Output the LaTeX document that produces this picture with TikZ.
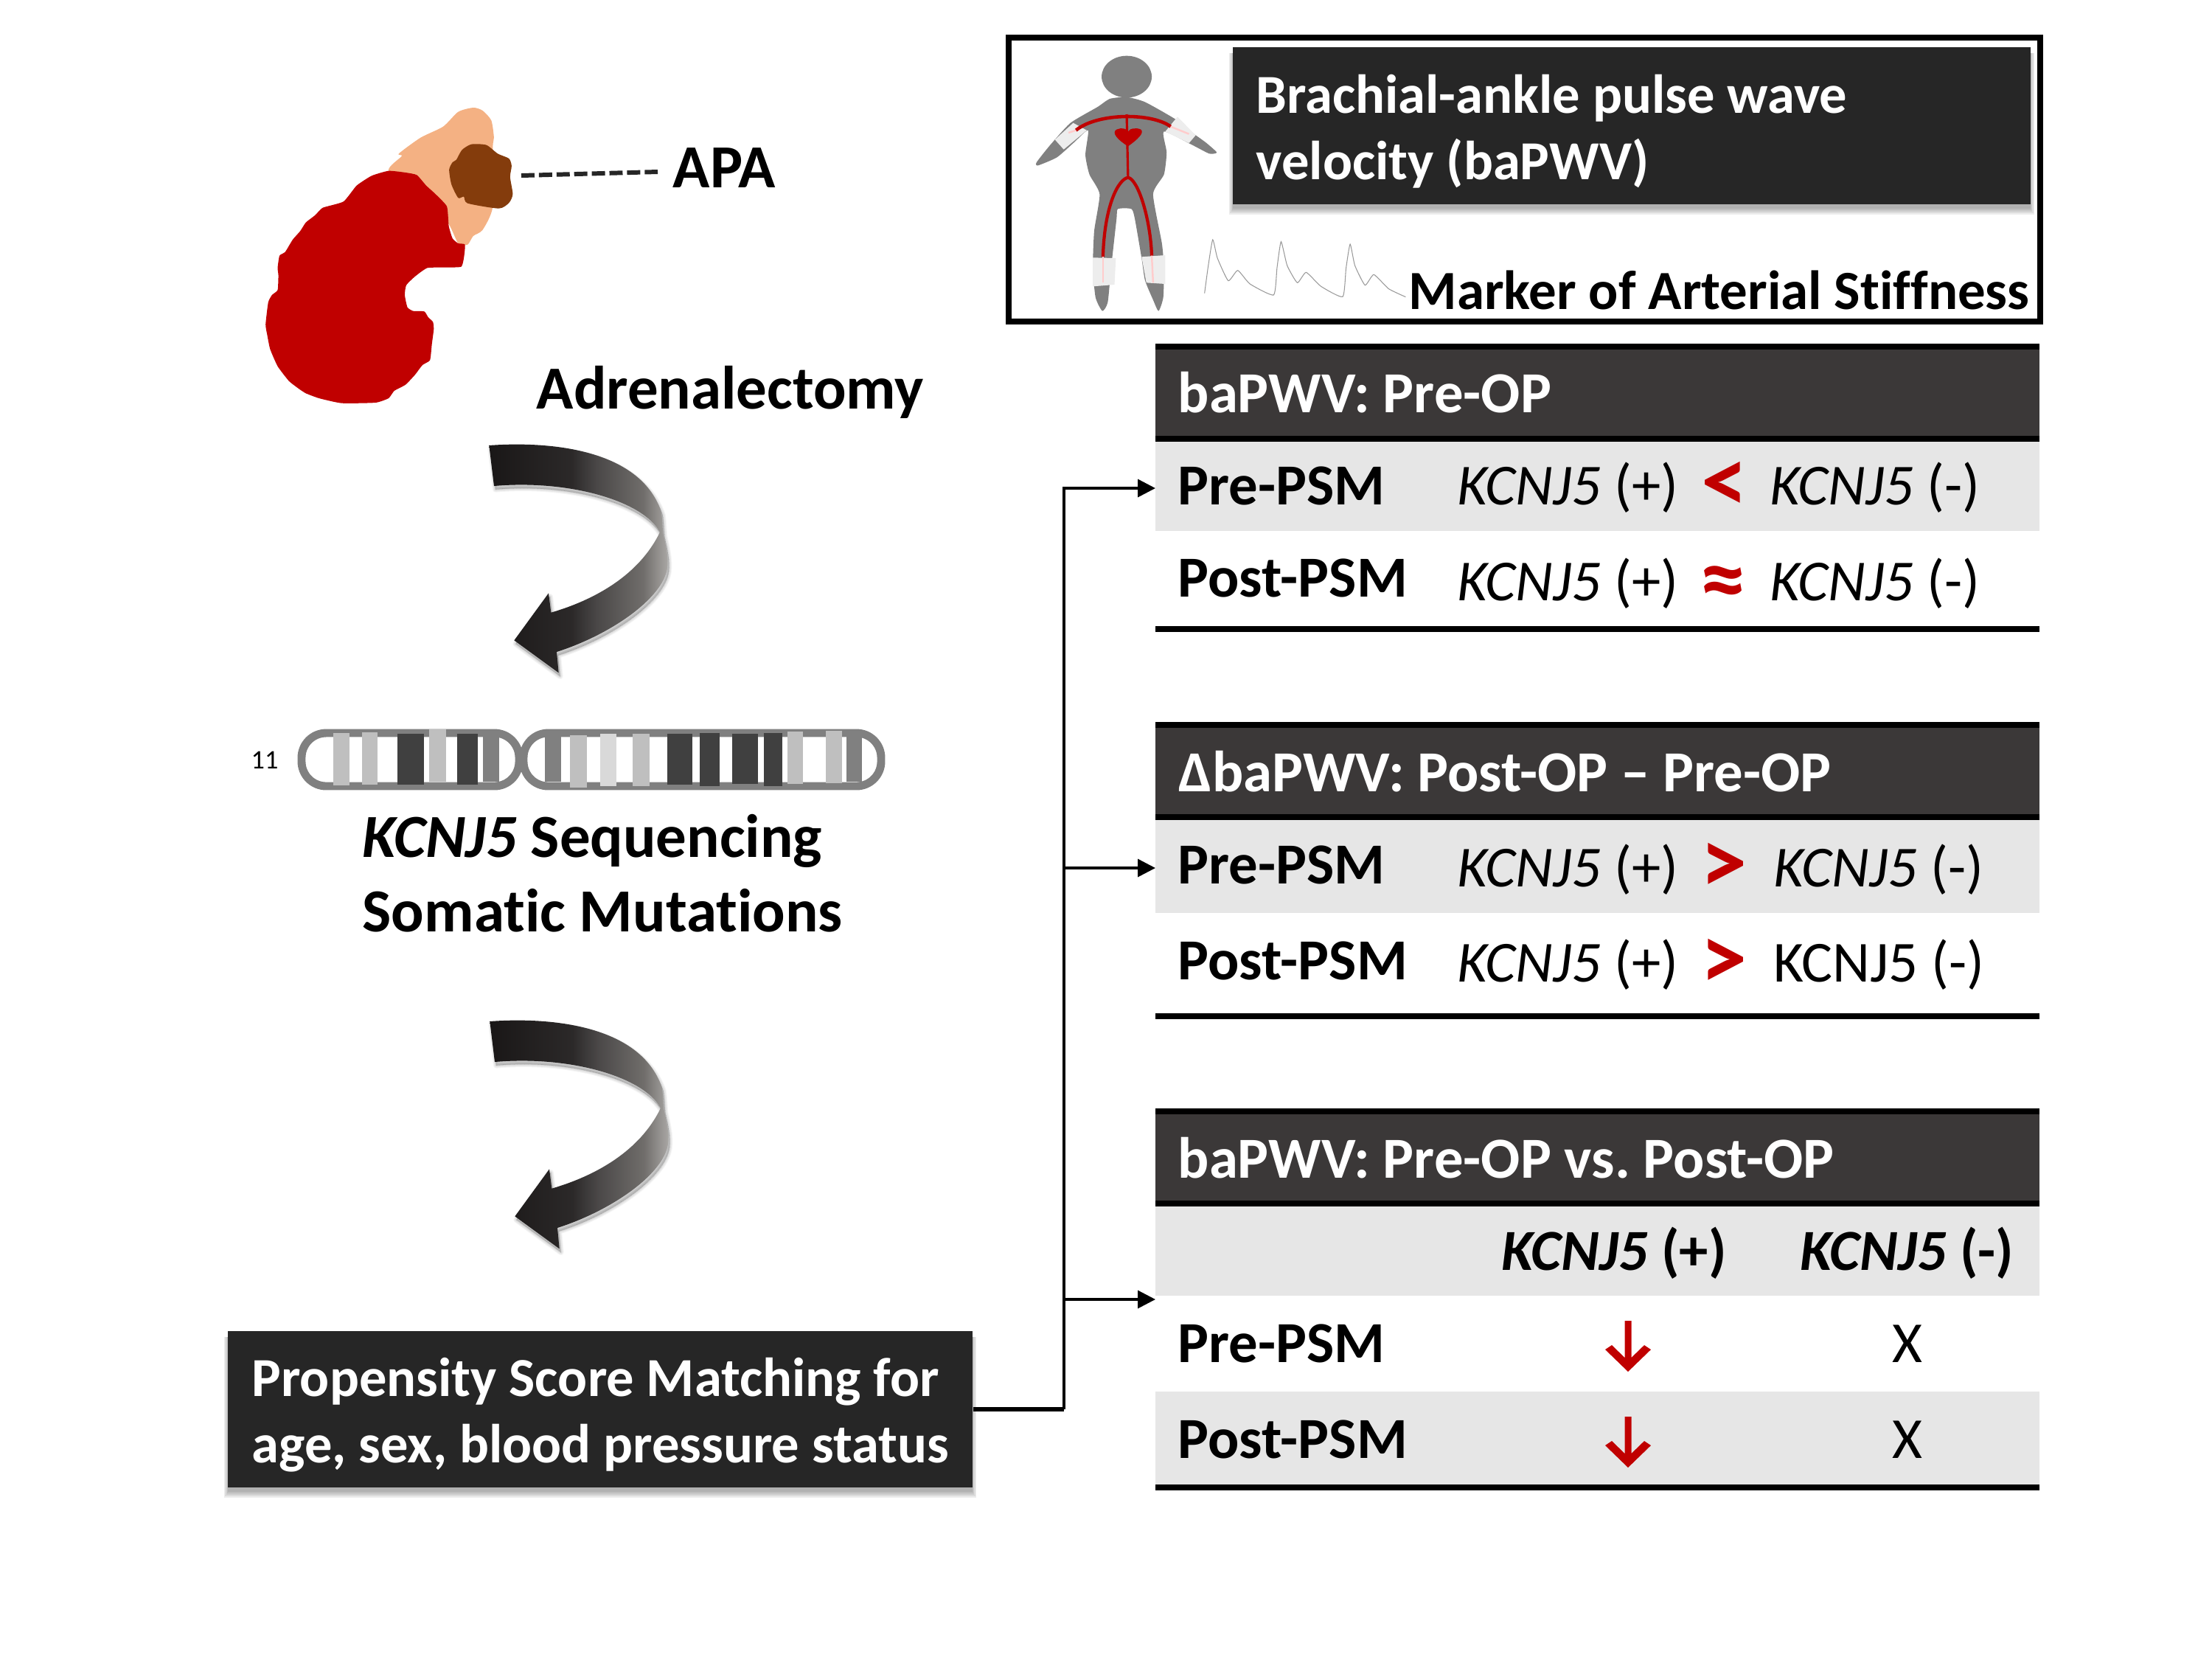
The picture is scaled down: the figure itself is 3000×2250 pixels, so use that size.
\documentclass[tikz,border=0pt]{standalone}
\usepackage{fontspec}
\setmainfont{Carlito}[Ligatures=NoCommon]
\usetikzlibrary{arrows.meta,calc}

\definecolor{boxdark}{HTML}{262626}
\definecolor{headdark}{HTML}{3B3838}
\definecolor{rowgray}{HTML}{E6E6E6}
\definecolor{redmark}{HTML}{C00000}
\definecolor{glandtan}{HTML}{F4B183}
\definecolor{tumorbrown}{HTML}{843C0C}
\definecolor{midgray}{HTML}{808080}

\pgfdeclarehorizontalshading{swoosh}{100bp}{rgb(0bp)=(.10,.09,.09);rgb(25bp)=(.10,.09,.09);rgb(48bp)=(.17,.16,.16);rgb(55bp)=(.29,.28,.28);rgb(68bp)=(.44,.43,.42);rgb(75bp)=(.67,.66,.65);rgb(100bp)=(.67,.66,.65)}

\newcommand{\swooshpath}{(70,72) .. controls (300,55) and (680,80) .. (770,340) .. controls (775,370) and (775,400) .. (778,430) .. controls (790,480) and (800,530) .. (795,570) .. controls (780,690) and (570,840) .. (345,912) -- (353,997) -- (172,865) -- (312,673) -- (322,752) .. controls (500,700) and (680,600) .. (765,425) .. controls (700,300) and (400,210) .. (90,237) -- cycle}

\newcommand{\softshadow}[4]{\foreach \d in {0,2,4,6,8} \fill[black,opacity=.07] ({#1-.6*\d},{#2+8}) rectangle ({#3+.6*\d},{#4+6+\d});}

\tikzset{
    txt/.style={anchor=base west,inner sep=0pt,yshift=-.55pt},
    big/.style={txt,font=\fontsize{23.6}{23.6}\selectfont\bfseries},
    rowname/.style={txt,font=\fontsize{22.4}{22.4}\selectfont\bfseries},
    headline/.style={rowname,text=white},
    gene/.style={txt,font=\fontsize{22.4}{22.4}\selectfont\itshape},
    plain/.style={txt,font=\fontsize{22.4}{22.4}\selectfont},
    sign/.style={anchor=center,inner sep=0pt,text=redmark,font=\fontsize{36}{36}\selectfont\bfseries},
    darkbox/.style={fill=boxdark,text=white,inner sep=0pt,align=flush left,font=\fontsize{21.2}{25.6}\selectfont\bfseries},
    feed/.style={line width=1pt,-{Triangle[length=6.8pt,width=6.8pt]}},
    pics/curvearrow/.style={code={
        \foreach \w in {0,6,12,18,24}
            \path[scale=1/3,fill=black,draw=black,opacity=.04,line width=\w*.0949pt,line join=round,shift={(6,14)}] \swooshpath;
        \path[scale=1/3,shading=swoosh] \swooshpath;
    }},
    pics/downmark/.style={code={
        \fill[redmark] (-4.5,0) -- (4.5,0) -- (4.5,50) -- (22,33) -- (31,39) -- (0,69) -- (-31,39) -- (-22,33) -- (-4.5,50) -- cycle;
    }}
}

\begin{document}
\frenchspacing
\begin{tikzpicture}[x=.01cm,y=-.01cm]
    \useasboundingbox (0,0) rectangle (3000,2250);

    % kidney and adrenal
    \begin{scope}[shift={(300,100)},xscale=1/1.96,yscale=1/3]
        \fill[glandtan] plot[smooth cycle,tension=.4] coordinates {(445,395) (480,335) (472,325) (530,260) (590,215) (630,155) (670,138) (695,150) (718,190) (725,260) (722,300) (722,540) (695,635) (670,660) (655,695) (630,690) (600,600) (520,480)};
        \fill[redmark] plot[smooth cycle,tension=.3] coordinates {(445,395) (490,402) (520,412) (545,455) (570,490) (600,540) (605,620) (615,670) (630,690) (648,695) (645,750) (638,785) (600,788) (548,790) (515,825) (492,860) (488,900) (495,950) (510,965) (540,967) (550,990) (563,1010) (565,1040) (560,1100) (555,1165) (535,1185) (515,1225) (490,1265) (460,1290) (445,1320) (410,1338) (320,1340) (260,1320) (225,1300) (205,1280) (180,1250) (150,1190) (130,1120) (122,1060) (118,1020) (125,930) (135,900) (150,880) (152,820) (150,790) (155,740) (170,725) (190,675) (210,640) (225,605) (250,575) (270,545) (325,520) (360,455) (400,415)};
        \fill[tumorbrown] plot[smooth cycle,tension=.4] coordinates {(640,310) (665,287) (705,290) (735,325) (765,345) (772,375) (768,420) (775,490) (765,525) (738,548) (655,527) (645,500) (630,505) (612,450) (606,390) (615,360) (625,350)};
    \end{scope}

    \coordinate (tumoredge) at (707,238);
    \coordinate (apaleft) at (892,233);
    \draw[boxdark,line width=1.7pt,dash pattern=on 5.1pt off 1.7pt] (tumoredge) -- (apaleft);
    \node[big] (apa) at (912,253) {APA};
    \node[big] (adrenal) at (727,553) {Adrenalectomy};

    \pic at (640,580) {curvearrow};
    \pic at (641,1361) {curvearrow};

    % chromosome 11
    \node[plain,font=\fontsize{10.3}{10.3}\selectfont] (chrnum) at (340,1041) {11};
    \draw[midgray,line width=3.1pt,fill=white,rounded corners=9.5pt] (409,994) rectangle (704,1066);
    \draw[midgray,line width=3.1pt,fill=white,rounded corners=9.5pt] (710,994) rectangle (1195,1066);
    \begin{scope}[shift={(320,960)},xscale=1/1.70,yscale=1/3]
        \foreach \a/\b/\t/\u/\c in {225/262/102/315/black!25,290/327/98/312/black!25,372/433/105/312/black!75,445/484/87/300/black!25,510/557/105/312/black!75,570/607/118/300/midgray,712/750/118/300/midgray,770/810/110/325/black!25,840/878/105/318/black!15,914/953/105/318/black!25,995/1053/105/312/black!75,1070/1116/102/318/black!75,1144/1203/105/310/black!75,1217/1260/102/318/black!75,1271/1308/96/308/black!25,1360/1398/93/305/black!25,1407/1443/118/300/midgray}
            \fill[\c] (\a,\t) rectangle (\b,\u);
    \end{scope}

    \node[big] (seq) at (491,1161) {\textit{KCNJ5} Sequencing};
    \node[big] (somatic) at (491,1262) {Somatic Mutations};

    % propensity box
    \softshadow{309}{1805}{1319}{2017}
    \node[darkbox,minimum width=10.1cm,minimum height=2.12cm,text width=10.1cm] (psm) at (814,1911) {\rule{0pt}{19pt}\hspace*{.33cm}Propensity Score Matching for\\\hspace*{.33cm}age, sex, blood pressure status};

    % top frame
    \draw[black,line width=2.1pt] (1368,51) rectangle (2767,436);

    % body figure
    \begin{scope}[shift={(1360,30)},xscale=1/1.089,yscale=1/3]
        \fill[midgray] (183,222) ellipse [x radius=37,y radius=85];
        \fill[midgray] plot[smooth cycle,tension=.35] coordinates {(158,312) (183,305) (210,325) (255,395) (280,450) (300,490) (316,530) (305,535) (280,500) (238,445) (242,530) (238,620) (222,700) (235,900) (238,1000) (237,1120) (230,1175) (222,1130) (210,1050) (205,960) (195,800) (190,760) (170,760) (168,800) (160,1000) (155,1140) (147,1175) (137,1120) (133,1000) (135,850) (143,700) (128,620) (122,540) (126,440) (105,490) (80,550) (52,583) (50,570) (70,500) (100,410) (140,345)};
        \fill[black!7] (104,410) -- (124,440) -- (90,518) -- (77,478) -- cycle;
        \fill[black!7] (258,385) -- (285,460) -- (275,492) -- (240,445) -- cycle;
        \fill[black!7] (133,958) -- (167,960) -- (165,1068) -- (133,1075) -- cycle;
        \fill[black!7] (205,955) -- (240,948) -- (240,1065) -- (212,1060) -- cycle;
        \draw[redmark,line width=1.3pt] (108,440) .. controls (140,368) and (220,368) .. (248,425);
        \draw[redmark,line width=.9pt] (183,375) -- (185,632);
        \fill[redmark] (185,505) .. controls (170,480) and (160,450) .. (168,437) .. controls (175,428) and (183,432) .. (185,445) .. controls (187,432) and (198,428) .. (204,437) .. controls (210,450) and (198,480) .. (185,505) -- cycle;
        \draw[redmark,line width=1.2pt] (148,955) .. controls (150,750) and (170,640) .. (185,632) .. controls (200,640) and (218,800) .. (220,950);
        \draw[red!20,line width=.7pt] (148,955) -- (148,1060);
        \draw[red!20,line width=.7pt] (220,950) -- (222,1060);
        \draw[red!20,line width=.7pt] (97,450) -- (108,440);
        \draw[red!20,line width=.7pt] (248,425) -- (275,455);
        % pulse wave
        \draw[black!40,line width=.3pt] plot[smooth,tension=.3] coordinates {(298,1103) (303,1000) (310,885) (317,960) (333,1052) (347,1010) (365,1065) (400,1110) (405,1000) (411,893) (420,990) (435,1060) (448,1018) (470,1075) (502,1117) (507,1000) (513,903) (520,990) (535,1070) (548,1027) (570,1085) (595,1118)};
    \end{scope}

    \softshadow{1672}{64}{2754}{277}
    \node[darkbox,minimum width=10.82cm,minimum height=2.13cm,text width=10.82cm] (bapwv) at (2213,170.5) {\rule{0pt}{19pt}\hspace*{.32cm}Brachial-ankle pulse wave\\\hspace*{.32cm}velocity (baPWV)};
    \node[txt,font=\fontsize{21.3}{21.3}\selectfont\bfseries] (marker) at (1910,418) {Marker of Arterial Stiffness};

    % table 1
    \fill[headdark] (1567,474) rectangle (2766,591);
    \fill[black] (1567,466) rectangle (2766,474);
    \fill[black] (1567,591) rectangle (2766,599);
    \fill[rowgray] (1567,599) rectangle (2766,720);
    \fill[black] (1567,849) rectangle (2766,857);
    \node[headline] (onehead) at (1597,558) {baPWV: Pre-OP};
    \node[rowname] (onepre) at (1597,683) {Pre-PSM};
    \node[gene] (oneprep) at (1976,683) {KCNJ5\textup{ (+)}};
    \node[sign] (onelt) at (2339,660) {<};
    \node[gene] (onepren) at (2400,683) {KCNJ5\textup{ (-)}};
    \node[rowname] (onepost) at (1597,808) {Post-PSM};
    \node[gene] (onepostp) at (1976,813) {KCNJ5\textup{ (+)}};
    \node[sign] (oneap) at (2337,798) {≈};
    \node[gene] (onepostn) at (2400,813) {KCNJ5\textup{ (-)}};

    % table 2
    \fill[headdark] (1567,987) rectangle (2766,1104);
    \fill[black] (1567,979) rectangle (2766,987);
    \fill[black] (1567,1104) rectangle (2766,1112);
    \fill[rowgray] (1567,1112) rectangle (2766,1238);
    \fill[black] (1567,1374) rectangle (2766,1382);
    \node[headline] (twohead) at (1598,1072) {ΔbaPWV: Post-OP – Pre-OP};
    \node[rowname] (twopre) at (1597,1197) {Pre-PSM};
    \node[gene] (twoprep) at (1976,1201) {KCNJ5\textup{ (+)}};
    \node[sign] (twogt) at (2338,1177) {>};
    \node[gene] (twopren) at (2405,1201) {KCNJ5\textup{ (-)}};
    \node[rowname] (twopost) at (1597,1327) {Post-PSM};
    \node[gene] (twopostp) at (1976,1330) {KCNJ5\textup{ (+)}};
    \node[sign] (twogtb) at (2338,1307) {>};
    \node[plain] (twopostn) at (2405,1330) {KCNJ5 (-)};

    % table 3
    \fill[headdark] (1567,1511) rectangle (2766,1628);
    \fill[black] (1567,1503) rectangle (2766,1511);
    \fill[black] (1567,1628) rectangle (2766,1636);
    \fill[rowgray] (1567,1636) rectangle (2766,1757);
    \fill[rowgray] (1567,1887) rectangle (2766,2013);
    \fill[black] (1567,2013) rectangle (2766,2021);
    \node[headline] (threehead) at (1597,1596) {baPWV: Pre-OP vs. Post-OP};
    \node[rowname] (threep) at (2036,1721) {\textit{KCNJ5} (+)};
    \node[rowname] (threen) at (2441,1721) {\textit{KCNJ5} (-)};
    \node[rowname] (threepre) at (1597,1846) {Pre-PSM};
    \node[rowname] (threepost) at (1597,1976) {Post-PSM};
    \pic at (2208,1791) {downmark};
    \pic at (2208,1921) {downmark};
    \node[plain,anchor=base] (threex) at (2587,1846) {X};
    \node[plain,anchor=base] (threey) at (2587,1976) {X};

    % connectors
    \coordinate (bus) at (1443,1911);
    \coordinate (rowone) at (1567,662);
    \coordinate (bustwo) at (1443,1177);
    \coordinate (rowtwo) at (1567,1177);
    \coordinate (busthree) at (1443,1762);
    \coordinate (rowthree) at (1567,1762);
    \draw[line width=1.8pt] (psm.east) -- (bus);
    \draw[feed] (bus) |- (rowone);
    \draw[feed] (bustwo) -- (rowtwo);
    \draw[feed] (busthree) -- (rowthree);
\end{tikzpicture}
\end{document}
